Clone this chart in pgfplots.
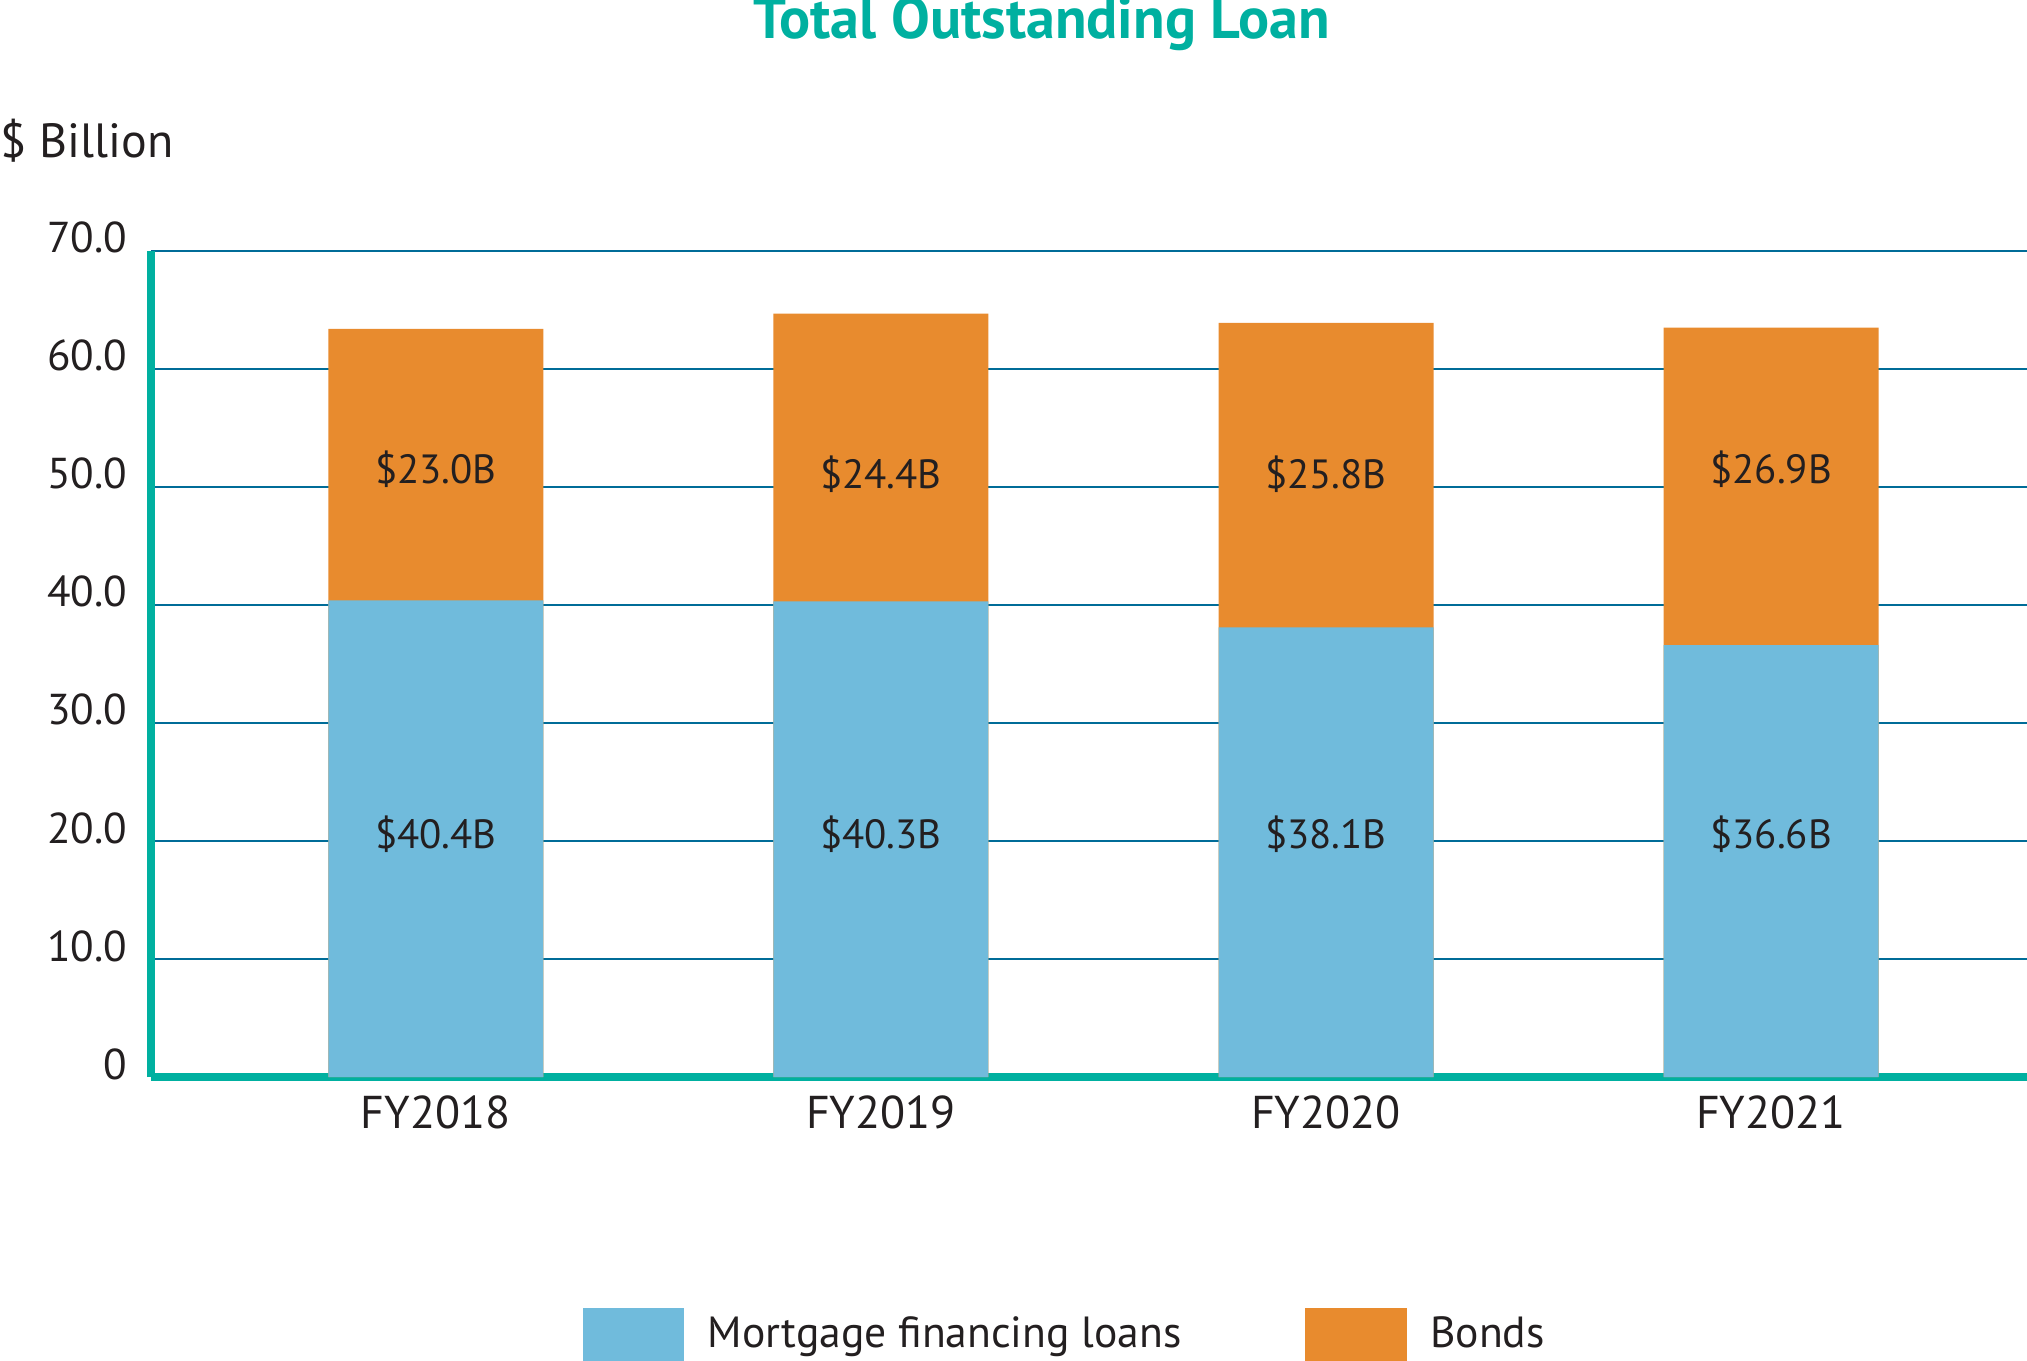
\documentclass[border=0pt]{standalone}
\usepackage{pgfplots}
\pgfplotsset{compat=1.18}
\usepackage{pgfplotstable}
\usepackage{fontspec}
\setmainfont{PT Sans}

\definecolor{tealc}{RGB}{0,176,160}
\definecolor{gridblue}{RGB}{0,108,152}
\definecolor{mblue}{RGB}{112,187,220}
\definecolor{borange}{RGB}{232,139,46}
\definecolor{txt}{RGB}{35,31,32}

% x, mortgage, bonds, label heights
\pgfplotstableread{
x mort bonds mly bly
0 40.4 23.0 20.6 51.5
1 40.3 24.4 20.6 51.1
2 38.1 25.8 20.6 51.1
3 36.6 26.9 20.6 51.5
}\loantable

\begin{document}
\begin{tikzpicture}
\useasboundingbox (-37.75pt,-71pt) rectangle (469pt,269.25pt);
\begin{axis}[
    width=469pt, height=206.5pt,
    scale only axis,
    clip=false,
    xmin=-0.64, xmax=3.575,
    ymin=0, ymax=70,
    axis lines*=left,
    axis line style={draw=tealc, line width=2pt, -},
    major tick length=0pt,
    ymajorgrids=true,
    grid style={draw=gridblue, line width=0.7pt},
    xtick={0,1,2,3},
    xticklabels={FY2018,FY2019,FY2020,FY2021},
    ytick={0,10,...,70},
    yticklabels={0,10.0,20.0,30.0,40.0,50.0,60.0,70.0},
    /pgf/number format/assume math mode=true,
    xticklabel style={anchor=north, inner sep=0pt, yshift=-4.5pt,
        font=\fontsize{11.5}{12}\selectfont, text=txt},
    yticklabel style={anchor=base east, inner sep=0pt, xshift=-5.75pt, yshift=-0.5pt,
        font=\fontsize{10.8}{12}\selectfont, text=txt},
    legend style={at={(0.2297,0)}, anchor=north west, yshift=-57.5pt,
        draw=none, inner sep=0pt, legend columns=2,
        font=\fontsize{10.9}{12}\selectfont, text=txt,
        /tikz/every even column/.append style={column sep=28.9pt}},
    legend cell align=left,
]

\addlegendimage{legend image code/.code={\fill[mblue] (0pt,-6.6pt) rectangle (25pt,6.6pt); \path (28.9pt,0pt);}}
\addlegendentry{Mortgage financing loans}
\addlegendimage{legend image code/.code={\fill[borange] (0pt,-6.6pt) rectangle (25pt,6.6pt); \path (28.9pt,0pt);}}
\addlegendentry{Bonds}

% full bar (mortgage + bonds), then mortgage over it
\addplot[ybar, bar width=53.75pt, bar shift=0pt, fill=borange, draw=none, forget plot]
    table[x=x, y expr=\thisrow{mort}+\thisrow{bonds}] {\loantable};
\addplot[ybar, bar width=53.75pt, bar shift=0pt, fill=mblue, draw=none, forget plot]
    table[x=x, y=mort] {\loantable};

% value labels
\addplot[draw=none, mark=none, forget plot, point meta=explicit,
    nodes near coords={\$\pgfmathprintnumber[fixed,fixed zerofill,precision=1]{\pgfplotspointmeta}B},
    every node near coord/.append style={anchor=center, inner sep=0pt,
        font=\fontsize{10.2}{12}\selectfont, text=txt}]
    table[x=x, y=mly, meta=mort] {\loantable};
\addplot[draw=none, mark=none, forget plot, point meta=explicit,
    nodes near coords={\$\pgfmathprintnumber[fixed,fixed zerofill,precision=1]{\pgfplotspointmeta}B},
    every node near coord/.append style={anchor=center, inner sep=0pt,
        font=\fontsize{10.2}{12}\selectfont, text=txt}]
    table[x=x, y=bly, meta=bonds] {\loantable};

\node[anchor=base, inner sep=0pt, text=tealc, font=\fontsize{14.5}{16}\selectfont\bfseries]
    at (rel axis cs:0.475,1) [yshift=53pt] {Total Outstanding Loan};
\node[anchor=base west, inner sep=0pt, text=txt, font=\fontsize{12}{14}\selectfont]
    at (rel axis cs:0,1) [xshift=-37.75pt, yshift=23.5pt] {\$ Billion};
\end{axis}
\end{tikzpicture}
\end{document}
